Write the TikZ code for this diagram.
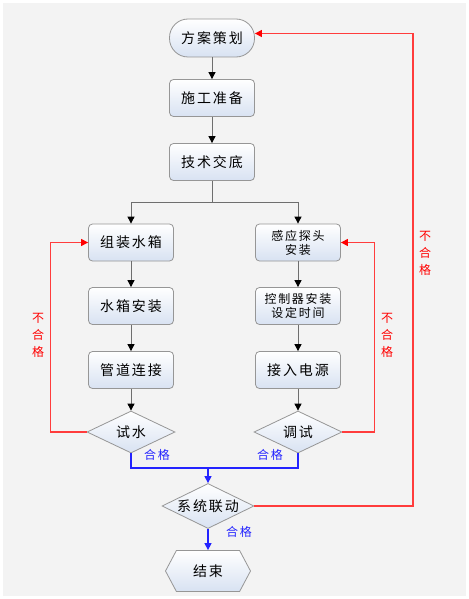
\documentclass[tikz,border=0pt]{standalone}
\usepackage{fontspec}
\newfontfamily\cjk[LetterSpace=14]{Noto Sans CJK SC}
\usepackage{tikz}
\usetikzlibrary{arrows.meta, positioning, shapes.geometric, shapes.symbols}

\definecolor{bggray}{RGB}{243,243,243}
\definecolor{edgegray}{RGB}{150,150,150}
\definecolor{linegray}{RGB}{110,110,110}
\definecolor{fillblue}{RGB}{216,226,242}
\definecolor{loopred}{RGB}{255,60,60}
\definecolor{passblue}{RGB}{35,35,255}

\begin{document}
\begin{tikzpicture}[x=1pt,y=-1pt,
    font=\cjk\fontsize{14}{16}\selectfont, text=black,
    stepbox/.style={draw=edgegray, line width=0.8pt, rounded corners=4pt,
        top color=white, bottom color=fillblue,
        minimum width=85pt, minimum height=37pt, inner sep=0pt, align=center},
    smalltext/.style={font=\cjk\fontsize{12}{14}\selectfont},
    startbox/.style={stepbox, rounded corners=18.5pt, minimum height=38pt},
    checkbox/.style={draw=edgegray, line width=0.8pt, shape=diamond, aspect=2,
        top color=white, bottom color=fillblue,
        minimum width=88pt, minimum height=42pt, inner sep=0pt},
    endbox/.style={draw=edgegray, line width=0.8pt, shape=signal,
        signal to=east and west, signal pointer angle=124,
        top color=white, bottom color=fillblue,
        minimum width=85pt, minimum height=41pt, inner sep=0pt},
    flow/.style={draw=linegray, line width=0.9pt},
    flowarrow/.style={flow, -{Triangle[length=7pt,width=7pt,color=black]}},
    failline/.style={draw=loopred, line width=1.2pt, -{Triangle[length=7pt,width=7pt,color=red]}},
    passline/.style={draw=passblue, line width=1.3pt},
    passarrow/.style={passline, -{Triangle[length=7pt,width=7pt]}},
    faillabel/.style={text=red, smalltext, align=center,
        font=\cjk\fontsize{12}{17}\selectfont},
    passlabel/.style={text=passblue, smalltext}]

    % frame
    \useasboundingbox (0,0) rectangle (468,599);
    \fill[white] (0,0) rectangle (468,599);
    \fill[bggray] (3,3) rectangle (466,596);

    % main column
    \node[startbox] (fangan) at (212,38) {方案策划};
    \node[stepbox] (zhunbei) at (212,98) {施工准备};
    \node[stepbox] (jiaodi) at (212,162) {技术交底};

    % water tank branch
    \node[stepbox] (zuzhuang) at (131,242.5) {组装水箱};
    \node[stepbox] (anzhuang) at (131,306) {水箱安装};
    \node[stepbox] (guandao) at (131,370) {管道连接};
    \node[checkbox] (shishui) at (131,432) {试水};

    % sensor branch
    \node[stepbox, smalltext] (tantou) at (298,242.5) {感应探头\\安装};
    \node[stepbox, smalltext] (kongzhi) at (298,306) {控制器安装\\设定时间};
    \node[stepbox] (dianyuan) at (298,370) {接入电源};
    \node[checkbox] (tiaoshi) at (298,432) {调试};

    % joint test and end
    \node[checkbox, minimum width=92pt, minimum height=45pt] (liandong) at (208,506) {系统联动};
    \node[endbox] (jieshu) at (208,571) {结束};

    % main arrows
    \draw[flowarrow] (fangan) -- (zhunbei);
    \draw[flowarrow] (zhunbei) -- (jiaodi);
    \coordinate (split) at (212,202);
    \draw[flow] (jiaodi) -- (split);
    \draw[flowarrow] (split) -| (zuzhuang);
    \draw[flowarrow] (split) -| (tantou);
    \draw[flowarrow] (zuzhuang) -- (anzhuang);
    \draw[flowarrow] (anzhuang) -- (guandao);
    \draw[flowarrow] (guandao) -- (shishui);
    \draw[flowarrow] (tantou) -- (kongzhi);
    \draw[flowarrow] (kongzhi) -- (dianyuan);
    \draw[flowarrow] (dianyuan) -- (tiaoshi);

    % passed
    \coordinate (merge) at (208,468);
    \draw[passline] (shishui.south) |- (merge);
    \draw[passline] (tiaoshi.south) |- (merge);
    \draw[passarrow] (merge) -- (liandong.north);
    \draw[passarrow] (liandong.south) -- (jieshu.north);
    \node[passlabel] (pass1) at (157,455) {合格};
    \node[passlabel] (pass2) at (270,455) {合格};
    \node[passlabel] (pass3) at (239,532) {合格};

    % failed loops
    \draw[failline] (shishui.west) -- ++(-36,0) |- (zuzhuang.west);
    \draw[failline] (tiaoshi.east) -- ++(32,0) |- (tantou.east);
    \coordinate (loopturn) at (413,33.5);
    \draw[failline] (liandong.east) -| (loopturn) -- (loopturn -| fangan.east);
    \node[faillabel] (fail1) at (38,335) {不\\合\\格};
    \node[faillabel] (fail2) at (387,335) {不\\合\\格};
    \node[faillabel] (fail3) at (425,253) {不\\合\\格};
\end{tikzpicture}
\end{document}
